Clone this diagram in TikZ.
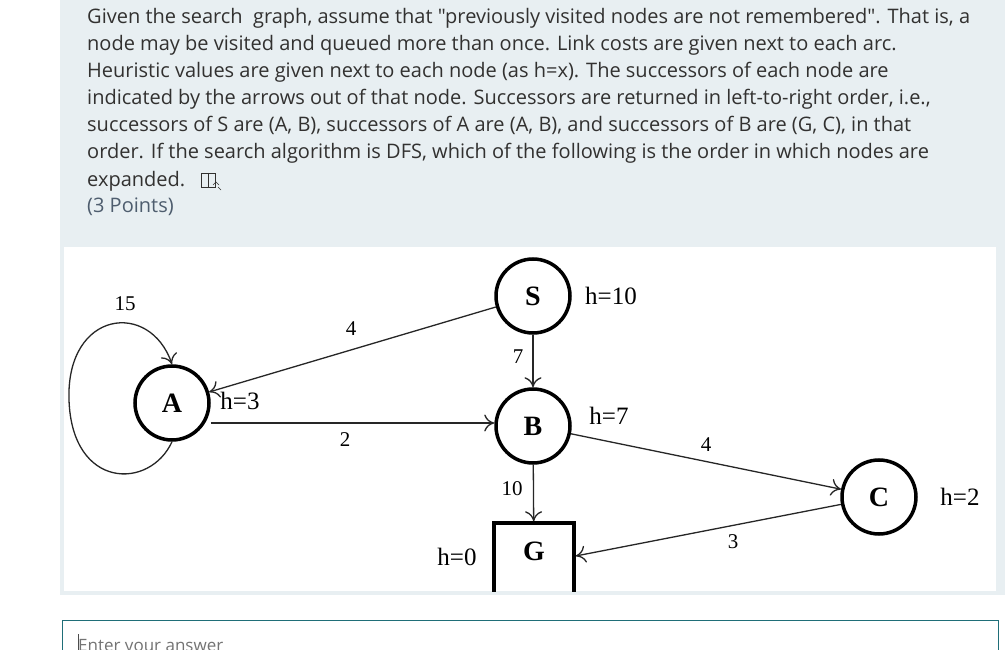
\documentclass[tikz,border=0pt]{standalone}
\usepackage{fontspec}
\setmainfont{Liberation Serif}
\newfontfamily\uifont{Open Sans}
\usetikzlibrary{arrows.meta}
\definecolor{panel}{HTML}{E8EFF2}
\definecolor{qtext}{HTML}{323130}
\definecolor{ptext}{HTML}{4E5D6E}
\definecolor{boxline}{HTML}{1F6E78}
\begin{document}
\begin{tikzpicture}[x=1pt,y=-1pt,
  qline/.style={anchor=base west,inner sep=0,font=\uifont\fontsize{20}{24}\selectfont,text=qtext},
  gnode/.style={circle,draw,line width=3.5pt,minimum size=74pt,inner sep=0,font=\fontsize{28}{30}\selectfont\bfseries},
  hlab/.style={font=\fontsize{25}{28}\selectfont,inner sep=1pt},
  elab/.style={font=\fontsize{21}{24}\selectfont,inner sep=1pt},
  arc/.style={line width=1.3pt,draw=black!85,-{To[length=10pt,width=17pt]}}]
\useasboundingbox (0,0) rectangle (1005,650);
\fill[white] (0,0) rectangle (1005,650);
\fill[panel] (60,0) rectangle (1005,595);
\fill[white] (64,247) rectangle (996,591);
% question text
\node[qline] (l1) at (87,24) {Given the search\ \ graph, assume that "previously visited nodes are not remembered". That is, a};
\node[qline] (l2) at (87,51) {node may be visited and queued more than once. Link costs are given next to each arc.};
\node[qline] (l3) at (87,78) {Heuristic values are given next to each node (as h=x). The successors of each node are};
\node[qline] (l4) at (87,105) {indicated by the arrows out of that node. Successors are returned in left-to-right order, i.e.,};
\node[qline] (l5) at (87,132) {successors of S are (A, B), successors of A are (A, B), and successors of B are (G, C), in that};
\node[qline] (l6) at (87,159) {order. If the search algorithm is DFS, which of the following is the order in which nodes are};
\node[qline] (l7) at (87,186) {expanded.};
\node[qline,text=ptext] (l8) at (87,213) {(3 Points)};
% reader icon
\draw[line width=0.8pt,draw=qtext] (201,173) rectangle (215,187);
\draw[line width=0.8pt,draw=qtext] (208,173) -- (208,187);
\draw[line width=0.7pt,draw=qtext] (213,185) -- (216,182) -- (219,185) (218,187) -- (221,190);
% answer box
\draw[boxline,line width=0.8pt] (62,620) rectangle (998,660);
\node[anchor=base west,inner sep=0,font=\uifont\fontsize{17}{20}\selectfont,text=black!55] (ans) at (78,651) {Enter your answer};
\draw[black!70,line width=0.6pt] (78,634) -- (78,652);
% graph
\begin{scope}
\clip (64,247) rectangle (996,591);
\node[gnode] (S) at (533,296) {S};
\node[gnode] (A) at (172,403) {A};
\node[gnode] (B) at (533,426) {B};
\node[gnode] (C) at (879,497) {C};
\node[gnode,rectangle,minimum size=80pt] (G) at (534,563) {};
\node[font=\fontsize{28}{30}\selectfont\bfseries] (Gt) at (534,551) {G};
\node[hlab] (hS) at (611,296) {h=10};
\node[hlab] (hA) at (240,401) {h=3};
\node[hlab] (hB) at (609,416) {h=7};
\node[hlab] (hC) at (960,497) {h=2};
\node[hlab] (hG) at (457,557) {h=0};
\draw[arc] (S) -- (A);
\draw[arc] (S) -- (B);
\draw[arc] (A.east |- 0,423) -- (B.west |- 0,423);
\draw[arc] (B) -- (C);
\draw[arc] (B) -- (G);
\draw[arc] (C) -- (G.east |- 0,556);
\draw[arc] (A.south) .. controls (150,490) and (72,490) .. (69,400)
   .. controls (66,310) and (150,300) .. (A.north);
\node[elab] (l15) at (125,304) {15};
\node[elab] (lSA) at (351,329) {4};
\node[elab] (lSB) at (518,357) {7};
\node[elab] (lAB) at (345,440) {2};
\node[elab] (lBC) at (706,445) {4};
\node[elab] (lBG) at (512,489) {10};
\node[elab] (lCG) at (733,542) {3};
\end{scope}
\end{tikzpicture}
\end{document}
